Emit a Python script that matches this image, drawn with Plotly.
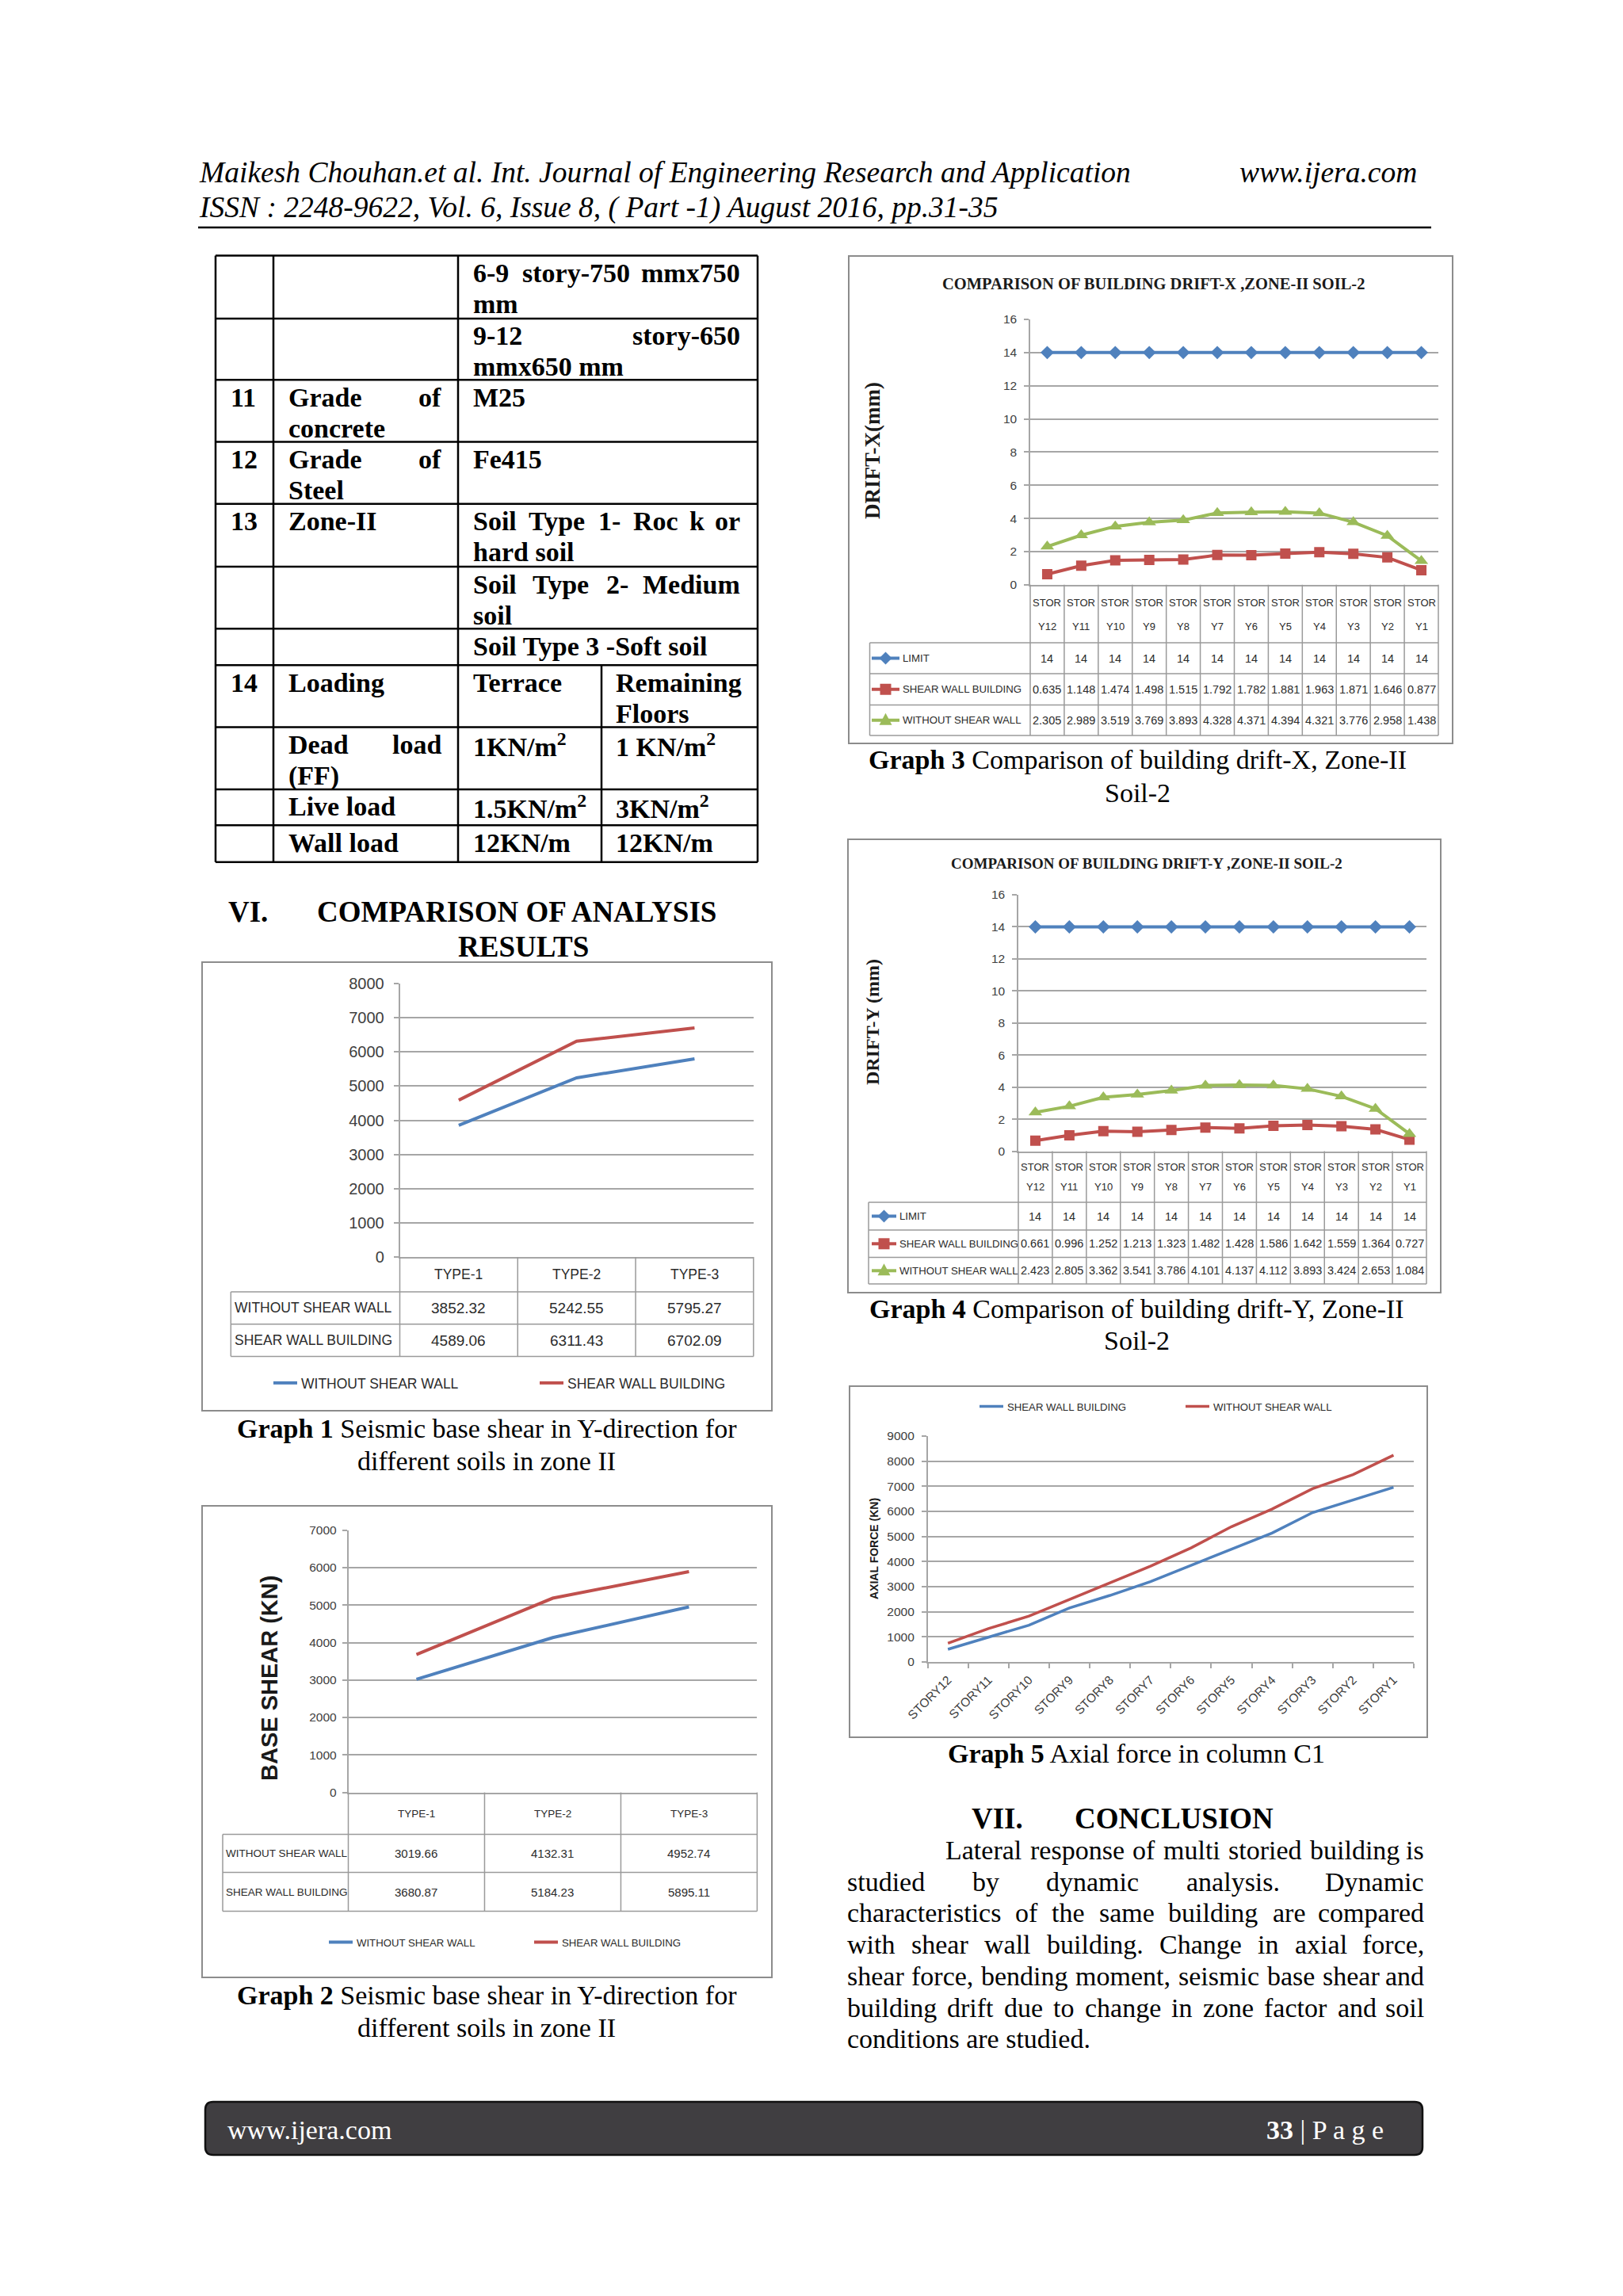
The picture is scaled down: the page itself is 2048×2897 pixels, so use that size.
import plotly.graph_objects as go

# ---------------- data ----------------
soil_types = ["TYPE-1", "TYPE-2", "TYPE-3"]
g1_without = [3852.32, 5242.55, 5795.27]
g1_shear = [4589.06, 6311.43, 6702.09]
g2_without = [3019.66, 4132.31, 4952.74]
g2_shear = [3680.87, 5184.23, 5895.11]

stories = ["STORY12", "STORY11", "STORY10", "STORY9", "STORY8", "STORY7",
           "STORY6", "STORY5", "STORY4", "STORY3", "STORY2", "STORY1"]
drift_limit = [14, 14, 14, 14, 14, 14, 14, 14, 14, 14, 14, 14]
driftx_shear = [0.635, 1.148, 1.474, 1.498, 1.515, 1.792, 1.782, 1.881, 1.963, 1.871, 1.646, 0.877]
driftx_without = [2.305, 2.989, 3.519, 3.769, 3.893, 4.328, 4.371, 4.394, 4.321, 3.776, 2.958, 1.438]
drifty_shear = [0.661, 0.996, 1.252, 1.213, 1.323, 1.482, 1.428, 1.586, 1.642, 1.559, 1.364, 0.727]
drifty_without = [2.423, 2.805, 3.362, 3.541, 3.786, 4.101, 4.137, 4.112, 3.893, 3.424, 2.653, 1.084]
axial_shear = [498, 985, 1461, 2149, 2647, 3198, 3843, 4500, 5135, 5950, 6459, 6956]
axial_without = [741, 1323, 1821, 2488, 3145, 3812, 4542, 5389, 6088, 6903, 7465, 8237]

TABLE_ROWS = [
    ("", [], ["6-9 story-750 mmx750", "mm"], None),
    ("", [], ["9-12 story-650", "mmx650 mm"], None),
    ("11", ["Grade of", "concrete"], ["M25"], None),
    ("12", ["Grade of", "Steel"], ["Fe415"], None),
    ("13", ["Zone-II"], ["Soil Type 1- Roc k or", "hard soil"], None),
    ("", [], ["Soil Type 2- Medium", "soil"], None),
    ("", [], ["Soil Type 3 -Soft soil"], None),
    ("14", ["Loading"], ["Terrace"], ["Remaining", "Floors"]),
    ("", ["Dead load", "(FF)"], ["1KN/m<sup>2</sup>"], ["1 KN/m<sup>2</sup>"]),
    ("", ["Live load"], ["1.5KN/m<sup>2</sup>"], ["3KN/m<sup>2</sup>"]),
    ("", ["Wall load"], ["12KN/m"], ["12KN/m"]),
]
CONCLUSION = [
    "Lateral response of multi storied building is",
    "studied by dynamic analysis. Dynamic",
    "characteristics of the same building are compared",
    "with shear wall building. Change in axial force,",
    "shear force, bending moment, seismic base shear and",
    "building drift due to change in zone factor and soil",
    "conditions are studied.",
]

# ---------------- helpers ----------------
W, H = 2048, 2897
OFF = 8  # page body margin offset
def X(p): return (p - OFF) / W
def Y(p): return 1 - (p - OFF) / H

SERIF = "Liberation Serif, Times New Roman, serif"
NARROW = "Liberation Sans Narrow, Arial Narrow, Liberation Sans, Arial, sans-serif"
SANS = "Liberation Sans, Arial, sans-serif"
BLUE, RED, GREEN = "#4F81BD", "#C0504D", "#9BBB59"
GRID = "#a6a6a6"
TBL = "#9a9a9a"
TXT = "#2b2b2b"

TR = dict(zip(" (),-./:", [250, 333, 333, 250, 333, 250, 278, 278]))
TR.update({d: 500 for d in "0123456789"})
TR.update(dict(zip("ABCDEFGHIJKLMNOPQRSTUVWXYZ",
    [722,667,667,722,611,556,722,722,333,389,722,611,889,722,722,556,722,667,556,611,722,722,944,722,722,611])))
TR.update(dict(zip("abcdefghijklmnopqrstuvwxyz",
    [444,500,444,500,444,333,500,500,278,278,500,278,778,500,500,500,500,333,389,278,500,500,722,500,500,444])))
TB = dict(zip(" (),-./:", [250, 333, 333, 250, 333, 250, 278, 333]))
TB.update({d: 500 for d in "0123456789"})
TB.update(dict(zip("ABCDEFGHIJKLMNOPQRSTUVWXYZ",
    [722,667,722,722,667,611,778,778,389,500,778,667,944,722,778,611,778,722,556,667,722,722,1000,722,722,667])))
TB.update(dict(zip("abcdefghijklmnopqrstuvwxyz",
    [500,556,444,556,444,333,500,556,278,333,556,278,833,556,500,556,556,444,389,333,556,500,722,500,500,444])))

def text_w(s, size, bold):
    tab = TB if bold else TR
    return sum(tab.get(c, 500) for c in s) * size / 1000.0

annotations, shapes = [], []

def ann(text, x, y, size, family=SERIF, color="black", xanchor="left", yanchor="middle",
        angle=0, xref="paper", yref="paper"):
    annotations.append(dict(
        text=text, x=X(x) if xref == "paper" else x, y=Y(y) if yref == "paper" else y,
        xref=xref, yref=yref, showarrow=False, xanchor=xanchor, yanchor=yanchor,
        textangle=angle, borderpad=0, font=dict(family=family, size=size, color=color)))

def hline(x0, x1, y, color, w):
    shapes.append(dict(type="line", xref="paper", yref="paper", x0=X(x0), x1=X(x1),
                       y0=Y(y), y1=Y(y), line=dict(color=color, width=w)))

def vline(x, y0, y1, color, w):
    shapes.append(dict(type="line", xref="paper", yref="paper", x0=X(x), x1=X(x),
                       y0=Y(y0), y1=Y(y1), line=dict(color=color, width=w)))

def rect(x0, y0, x1, y1, color, w, fill="rgba(0,0,0,0)"):
    shapes.append(dict(type="rect", xref="paper", yref="paper", x0=X(x0), x1=X(x1),
                       y0=Y(y1), y1=Y(y0), line=dict(color=color, width=w), fillcolor=fill))

def poly(pts, fill):
    d = "M " + " L ".join(f"{X(a):.6f},{Y(b):.6f}" for a, b in pts) + " Z"
    shapes.append(dict(type="path", xref="paper", yref="paper", path=d, fillcolor=fill,
                       line=dict(width=0)))

def justify(line, x0, x1, y, size, bold):
    words = line.split()
    wrap = (lambda s: f"<b>{s}</b>") if bold else (lambda s: s)
    if len(words) == 1:
        ann(wrap(words[0]), x0, y, size)
        return
    ws = [text_w(w, size, bold) for w in words]
    gap = (x1 - x0 - sum(ws)) / (len(words) - 1)
    x = x0
    for i, (w, wd) in enumerate(zip(words, ws)):
        if i == len(words) - 1:
            ann(wrap(w), x1, y, size, xanchor="right")
        else:
            ann(wrap(w), x, y, size)
        x += wd + gap

def paragraph(lines, x0, x1, y0, dy, size, bold, indent=0):
    for i, line in enumerate(lines):
        xs = x0 + (indent if i == 0 else 0)
        yy = y0 + i * dy
        if i < len(lines) - 1:
            justify(line, xs, x1, yy, size, bold)
        else:
            ann(f"<b>{line}</b>" if bold else line, xs, yy, size)

def key_marker(kind, cx, cy, color):
    if kind == "diamond":
        poly([(cx - 8, cy), (cx, cy - 8), (cx + 8, cy), (cx, cy + 8)], color)
    elif kind == "square":
        poly([(cx - 7, cy - 7), (cx + 7, cy - 7), (cx + 7, cy + 7), (cx - 7, cy + 7)], color)
    else:
        poly([(cx - 8, cy + 6), (cx + 8, cy + 6), (cx, cy - 9)], color)

def yaxis(dom_bottom, dom_top, anchor, rng, dtick, size, standoff):
    return dict(domain=[Y(dom_bottom), Y(dom_top)], anchor=anchor, range=rng, dtick=dtick, tick0=0,
                showgrid=True, gridcolor=GRID, gridwidth=1.5, zeroline=False, showline=True,
                linecolor=GRID, linewidth=1.5, ticks="outside", ticklen=6, tickcolor=GRID,
                tickwidth=1.5, ticklabelstandoff=standoff, automargin=False,
                tickfont=dict(family=NARROW, size=size, color="#404040"), fixedrange=True)

def cat_xaxis(left, right, anchor, n):
    return dict(domain=[X(left), X(right)], anchor=anchor, type="category", range=[-0.5, n - 0.5],
                showticklabels=False, ticks="", showgrid=False, zeroline=False, showline=True,
                linecolor=GRID, linewidth=1.5, fixedrange=True, automargin=False)

def table_grid(left, right, n, top, hb, rbs, lc):
    step = (right - left) / n
    bottom = rbs[-1]
    for k in range(n + 1):
        vline(left + k * step, top, bottom, TBL, 1.5)
    vline(lc, hb, bottom, TBL, 1.5)
    for yb in [hb] + rbs:
        hline(lc, right, yb, TBL, 1.5)

fig = go.Figure()

# ---------------- page header ----------------
ann("<i>Maikesh Chouhan.et al. Int. Journal of Engineering Research and Application</i>", 250, 218, 37.5)
ann("<i>www.ijera.com</i>", 1789, 218, 37.5, xanchor="right")
ann("<i>ISSN : 2248-9622, Vol. 6, Issue 8, ( Part -1) August 2016, pp.31-35</i>", 250, 262, 37.5)
hline(250, 1806, 287, "black", 2.5)

# ---------------- spec table ----------------
row_b = [322.6, 401.9, 479.2, 557.5, 635.8, 715, 793.3, 839.3, 917.6, 995.9, 1041.3, 1087.8]
cols = [272, 345, 578, 759, 956]
for yb in row_b:
    hline(cols[0], cols[4], yb, "black", 2.5)
for c in (cols[0], cols[1], cols[2], cols[4]):
    vline(c, row_b[0], row_b[-1], "black", 2.5)
vline(cols[3], row_b[7], row_b[-1], "black", 2.5)
for i, (no, c2, c3, c4) in enumerate(TABLE_ROWS):
    top = row_b[i]
    if no:
        ann(f"<b>{no}</b>", 290, top + 22, 34)
    if c2:
        paragraph(c2, 363, 558, top + 22, 39, 34, True)
    if c4 is None:
        paragraph(c3, 596, 935, top + 22, 39, 34, True)
    else:
        paragraph(c3, 596, 745, top + 22, 39, 34, True)
        paragraph(c4, 776, 935, top + 22, 39, 34, True)

# ---------------- section VI ----------------
ann("<b>VI.</b>", 287, 1150, 37)
ann("<b>COMPARISON OF ANALYSIS</b>", 399, 1150, 37)
ann("<b>RESULTS</b>", 660, 1194, 37, xanchor="center")

# ---------------- Graph 1 ----------------
rect(255, 1214, 974, 1780, "#8c8c8c", 2)
fig.add_trace(go.Scatter(x=soil_types, y=g1_without, name="WITHOUT SHEAR WALL", mode="lines",
                         line=dict(color=BLUE, width=4), xaxis="x", yaxis="y", legend="legend"))
fig.add_trace(go.Scatter(x=soil_types, y=g1_shear, name="SHEAR WALL BUILDING", mode="lines",
                         line=dict(color=RED, width=4), xaxis="x", yaxis="y", legend="legend"))
table_grid(504.5, 950.8, 3, 1586, 1630, [1670.7, 1711.4], 291.3)
for c in soil_types:
    ann(c, c, 1608, 17.5, NARROW, TXT, xanchor="center", xref="x")
for lab, vals, (y0, y1) in (("WITHOUT SHEAR WALL", g1_without, (1630, 1670.7)),
                            ("SHEAR WALL BUILDING", g1_shear, (1670.7, 1711.4))):
    ann(lab, 295, (y0 + y1) / 2, 17.5, NARROW, TXT)
    for c, v in zip(soil_types, vals):
        ann(f"{v:.2f}", c, (y0 + y1) / 2, 19, NARROW, TXT, xanchor="center", xref="x")
ann("<b>Graph 1</b> Seismic base shear in Y-direction for", 614, 1802, 34, xanchor="center")
ann("different soils in zone II", 614, 1843, 34, xanchor="center")

# ---------------- Graph 2 ----------------
rect(255, 1900, 974, 2495, "#8c8c8c", 2)
fig.add_trace(go.Scatter(x=soil_types, y=g2_without, name="WITHOUT SHEAR WALL", mode="lines",
                         line=dict(color=BLUE, width=4), xaxis="x2", yaxis="y2", legend="legend2"))
fig.add_trace(go.Scatter(x=soil_types, y=g2_shear, name="SHEAR WALL BUILDING", mode="lines",
                         line=dict(color=RED, width=4), xaxis="x2", yaxis="y2", legend="legend2"))
table_grid(439.5, 955.4, 3, 2261.6, 2314.6, [2362.6, 2411.4], 281)
for c in soil_types:
    ann(c, c, 2288, 13.5, NARROW, TXT, xanchor="center", xref="x2")
for lab, vals, (y0, y1) in (("WITHOUT SHEAR WALL", g2_without, (2314.6, 2362.6)),
                            ("SHEAR WALL BUILDING", g2_shear, (2362.6, 2411.4))):
    ann(lab, 284, (y0 + y1) / 2, 13.5, NARROW, TXT)
    for c, v in zip(soil_types, vals):
        ann(f"{v:.2f}", c, (y0 + y1) / 2, 15, NARROW, TXT, xanchor="center", xref="x2")
ann("<b>BASE SHEAR (KN)</b>", 340, 2118, 29, SANS, "#1a1a1a", xanchor="center", angle=-90)
ann("<b>Graph 2</b> Seismic base shear in Y-direction for", 614, 2517, 34, xanchor="center")
ann("different soils in zone II", 614, 2558, 34, xanchor="center")

# ---------------- Graph 3 & 4 (drift) ----------------
def drift_chart(idx, box, left, right, ptop, pbottom, hb, rbs, lc, title, tsize, ty, ytitle,
                ysize, yx, yy, lab_y, keyx, limit, shear, without):
    xa, ya = f"x{idx}", f"y{idx}"
    rect(*box, "#8c8c8c", 2)
    fig.add_trace(go.Scatter(x=stories, y=limit, name="LIMIT", mode="lines+markers",
                             line=dict(color=BLUE, width=4), marker=dict(symbol="diamond", size=13, color=BLUE),
                             xaxis=xa, yaxis=ya, showlegend=False))
    fig.add_trace(go.Scatter(x=stories, y=shear, name="SHEAR WALL BUILDING", mode="lines+markers",
                             line=dict(color=RED, width=4), marker=dict(symbol="square", size=13, color=RED),
                             xaxis=xa, yaxis=ya, showlegend=False))
    fig.add_trace(go.Scatter(x=stories, y=without, name="WITHOUT SHEAR WALL", mode="lines+markers",
                             line=dict(color=GREEN, width=4), marker=dict(symbol="triangle-up", size=15, color=GREEN),
                             xaxis=xa, yaxis=ya, showlegend=False))
    table_grid(left, right, len(stories), pbottom, hb, rbs, lc)
    for s in stories:
        ann(s[:4], s, lab_y[0], 13, NARROW, TXT, xanchor="center", xref=xa)
        ann(s[4:], s, lab_y[1], 13, NARROW, TXT, xanchor="center", xref=xa)
    prev = hb
    for (lab, vals, color, kind, fmt), yb in zip(
            (("LIMIT", limit, BLUE, "diamond", "{:g}"),
             ("SHEAR WALL BUILDING", shear, RED, "square", "{:.3f}"),
             ("WITHOUT SHEAR WALL", without, GREEN, "triangle", "{:.3f}")), rbs):
        cy = (prev + yb) / 2
        hline(keyx[0], keyx[1], cy, color, 4)
        key_marker(kind, (keyx[0] + keyx[1]) / 2, cy, color)
        ann(lab, keyx[1] + 3, cy, 13.2, NARROW, TXT)
        for s, v in zip(stories, vals):
            ann(fmt.format(v), s, cy, 14.5, NARROW, TXT, xanchor="center", xref=xa)
        prev = yb
    ann(f"<b>{title}</b>", (box[0] + box[2]) / 2 + 3, ty, tsize, SERIF, "#1a1a1a", xanchor="center")
    ann(f"<b>{ytitle}</b>", yx, yy, ysize, SERIF, "#1a1a1a", xanchor="center", angle=-90)
    return cat_xaxis(left, right, ya, len(stories)), yaxis(pbottom, ptop, xa, [0, 16], 2, 15.5, 6)

ax3, ay3 = drift_chart(3, (1071, 323, 1833, 938), 1300, 1815, 403, 737.8, 811, [850, 889.5, 928], 1097.5,
                       "COMPARISON OF BUILDING DRIFT-X ,ZONE-II SOIL-2", 20.5, 358, "DRIFT-X(mm)", 27,
                       1101, 569, (760, 790), (1100, 1135), drift_limit, driftx_shear, driftx_without)
ann("<b>Graph 3</b> Comparison of building drift-X, Zone-II", 1435, 959, 34, xanchor="center")
ann("Soil-2", 1435, 1000, 34, xanchor="center")

ax4, ay4 = drift_chart(4, (1070, 1059, 1818, 1631), 1285, 1800, 1129, 1452.6, 1517, [1552, 1586.6, 1620], 1096,
                       "COMPARISON OF BUILDING DRIFT-Y ,ZONE-II SOIL-2", 19, 1090, "DRIFT-Y (mm)", 24,
                       1101, 1290, (1472, 1497), (1100, 1131), drift_limit, drifty_shear, drifty_without)
ann("<b>Graph 4</b> Comparison of building drift-Y, Zone-II", 1434, 1651, 34, xanchor="center")
ann("Soil-2", 1434, 1691, 34, xanchor="center")

# ---------------- Graph 5 ----------------
rect(1072, 1749, 1801, 2192, "#8c8c8c", 2)
fig.add_trace(go.Scatter(x=stories, y=axial_shear, name="SHEAR WALL BUILDING", mode="lines",
                         line=dict(color=BLUE, width=3.5), xaxis="x5", yaxis="y5", legend="legend3"))
fig.add_trace(go.Scatter(x=stories, y=axial_without, name="WITHOUT SHEAR WALL", mode="lines",
                         line=dict(color=RED, width=3.5), xaxis="x5", yaxis="y5", legend="legend3"))
ann("<b>AXIAL FORCE (KN)</b>", 1103, 1954, 14, SANS, "#1a1a1a", xanchor="center", angle=-90)
ann("<b>Graph 5</b> Axial force in column C1", 1434, 2212, 34, xanchor="center")

# ---------------- section VII ----------------
ann("<b>VII.</b>", 1225, 2294, 37)
ann("<b>CONCLUSION</b>", 1355, 2294, 37)
paragraph(CONCLUSION, 1068, 1798, 2334.5, 39.7, 34, False, indent=124)

# ---------------- footer ----------------
x0, x1, y0, y1, r = 259, 1795, 2652, 2719, 10
shapes.append(dict(type="path", xref="paper", yref="paper", fillcolor="#403e41",
                   line=dict(color="#111111", width=2.5),
                   path=(f"M {X(x0 + r)},{Y(y0)} L {X(x1 - r)},{Y(y0)} Q {X(x1)},{Y(y0)} {X(x1)},{Y(y0 + r)} "
                         f"L {X(x1)},{Y(y1 - r)} Q {X(x1)},{Y(y1)} {X(x1 - r)},{Y(y1)} "
                         f"L {X(x0 + r)},{Y(y1)} Q {X(x0)},{Y(y1)} {X(x0)},{Y(y1 - r)} "
                         f"L {X(x0)},{Y(y0 + r)} Q {X(x0)},{Y(y0)} {X(x0 + r)},{Y(y0)} Z")))
ann("www.ijera.com", 286, 2687, 34, SERIF, "white")
ann("<b>33</b> | P a g e", 1747, 2687, 34, SERIF, "white", xanchor="right")

# ---------------- layout ----------------
leg = lambda x, y, size, ew: dict(orientation="h", x=X(x), xanchor="left", y=Y(y), yanchor="middle",
                                  font=dict(family=NARROW, size=size, color=TXT), entrywidth=ew,
                                  entrywidthmode="pixels", bgcolor="rgba(0,0,0,0)", borderwidth=0)

fig.update_layout(
    width=W, height=H, autosize=False,
    margin=dict(l=0, r=0, t=0, b=0, pad=0, autoexpand=False),
    paper_bgcolor="white", plot_bgcolor="white", showlegend=True,
    xaxis=cat_xaxis(504.5, 950.8, "y", 3),
    yaxis=yaxis(1586, 1241, "x", [0, 8000], 1000, 20, 8),
    xaxis2=cat_xaxis(439.5, 955.4, "y2", 3),
    yaxis2=yaxis(2261.6, 1930.7, "x2", [0, 7000], 1000, 15.5, 4),
    xaxis3=ax3, yaxis3=ay3, xaxis4=ax4, yaxis4=ay4,
    xaxis5=dict(domain=[X(1170.6), X(1784)], anchor="y5", type="category", range=[-0.5, 11.5],
                tickangle=-45, ticks="outside", tickson="boundaries", ticklen=6, tickcolor=GRID,
                tickwidth=1.5, showline=True, linecolor=GRID, linewidth=1.5, showgrid=False,
                zeroline=False, ticklabelstandoff=6, automargin=False,
                tickfont=dict(family=NARROW, size=15.5, color="#404040"), fixedrange=True),
    yaxis5=yaxis(2096.8, 1812, "x5", [0, 9000], 1000, 15.5, 6),
    legend=leg(340, 1745, 17.5, 291),
    legend2=leg(410, 2451, 13.2, 214),
    legend3=leg(1231, 1775, 13.2, 215),
    annotations=annotations, shapes=shapes,
)

fig.write_html("out.html")
